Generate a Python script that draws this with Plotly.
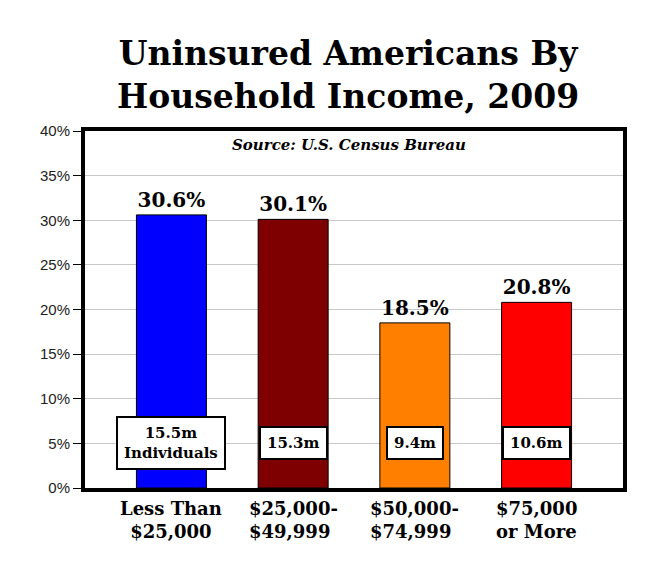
import plotly.graph_objects as go

categories = ["Less Than<br>$25,000", "$25,000-<br>$49,999", "$50,000-<br>$74,999", "$75,000<br>or More"]
uninsured_pct = [30.6, 30.1, 18.5, 20.8]
individuals = ["15.5m<br>Individuals", "15.3m", "9.4m", "10.6m"]
bar_colors = ["#0000FF", "#7F0000", "#FF8000", "#FF0000"]
y_ticks = [0, 5, 10, 15, 20, 25, 30, 35, 40]
y_tick_labels = [f"{v}%" for v in y_ticks]

SERIF = "DejaVu Serif"
x = list(range(len(categories)))

fig = go.Figure()
fig.add_trace(go.Bar(
    x=x, y=uninsured_pct, width=0.575,
    marker=dict(color=bar_colors, line=dict(color="black", width=1)),
    text=[f"<b>{v}%</b>" for v in uninsured_pct],
    textposition="outside", cliponaxis=False,
    textfont=dict(family=SERIF, size=20, color="black"),
    hoverinfo="skip",
))

for i, lab in enumerate(individuals):
    fig.add_annotation(
        x=i, y=5, xref="x", yref="y", text=f"<b>{lab}</b>", showarrow=False,
        font=dict(family=SERIF, size=15, color="black"),
        bgcolor="white", bordercolor="black", borderwidth=2, borderpad=6,
    )

for i, lab in enumerate(categories):
    fig.add_annotation(
        x=i, y=0, xref="x", yref="y", yanchor="top", yshift=-8,
        text=f"<b>{lab}</b>", showarrow=False, align="center" if i == 0 else "left",
        font=dict(family=SERIF, size=18, color="black"),
    )

fig.add_annotation(
    x=0.49, y=1, xref="paper", yref="paper", yanchor="top", yshift=-3,
    text="<b><i>Source: U.S. Census Bureau</i></b>", showarrow=False,
    font=dict(family=SERIF, size=15, color="black"),
)

fig.update_layout(
    width=654, height=567,
    margin=dict(l=77, r=39, t=123, b=87),
    paper_bgcolor="white", plot_bgcolor="white",
    showlegend=False,
    title=dict(
        text="<b>Uninsured Americans By<br>Household Income, 2009</b>",
        x=0.52, xanchor="center", y=0.90, yanchor="top",
        font=dict(family=SERIF, size=33, color="black"),
    ),
    xaxis=dict(range=[-0.71, 3.71], showticklabels=False, ticks="",
               showgrid=False, zeroline=False, fixedrange=True,
               showline=True, mirror=True, linecolor="black", linewidth=4),
    yaxis=dict(range=[0, 40], tickvals=y_ticks, ticktext=y_tick_labels,
               ticks="outside", ticklen=8, tickcolor="black", tickwidth=1,
               tickfont=dict(family="Liberation Sans", size=15, color="#222"),
               showgrid=True, gridcolor="#c8c8c8", gridwidth=1, zeroline=False,
               showline=True, mirror=True, linecolor="black", linewidth=4,
               fixedrange=True),
)

fig.write_html("out.html")
